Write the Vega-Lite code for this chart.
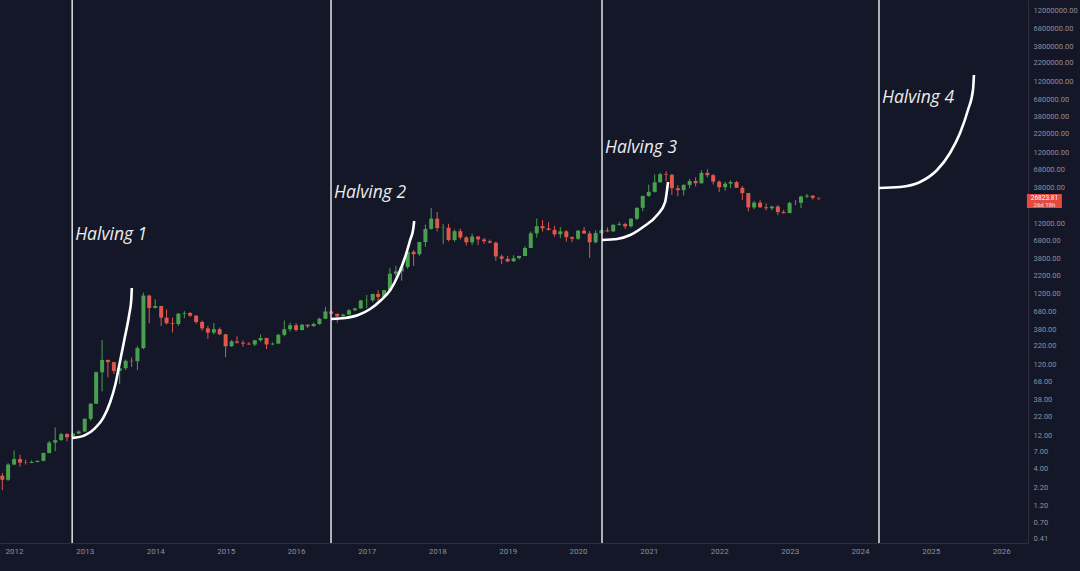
{
  "$schema": "https://vega.github.io/schema/vega-lite/v6.json",
  "width": 1028,
  "height": 543,
  "autosize": {"type": "none"},
  "padding": {"left": 0, "top": 0, "right": 52, "bottom": 28},
  "background": "#141727",
  "config": {"view": {"stroke": null}, "font": "Roboto"},
  "datasets": {
    "candles": [
      {"d":"2011-11-01","o":3.2,"h":3.5,"l":2.0,"c":2.8},
      {"d":"2011-12-01","o":2.8,"h":4.8,"l":2.7,"c":4.6},
      {"d":"2012-01-01","o":4.6,"h":7.3,"l":4.5,"c":5.5},
      {"d":"2012-02-01","o":5.5,"h":6.3,"l":4.3,"c":4.9},
      {"d":"2012-03-01","o":4.9,"h":5.4,"l":4.6,"c":4.85},
      {"d":"2012-04-01","o":4.85,"h":5.3,"l":4.8,"c":5.0},
      {"d":"2012-05-01","o":5.0,"h":5.2,"l":4.9,"c":5.2},
      {"d":"2012-06-01","o":5.2,"h":6.8,"l":5.1,"c":6.7},
      {"d":"2012-07-01","o":6.7,"h":9.9,"l":6.6,"c":9.4},
      {"d":"2012-08-01","o":9.4,"h":15.4,"l":7.1,"c":10.2},
      {"d":"2012-09-01","o":10.2,"h":12.9,"l":10.0,"c":12.4},
      {"d":"2012-10-01","o":12.4,"h":12.8,"l":9.8,"c":11.2},
      {"d":"2012-11-01","o":11.2,"h":12.9,"l":10.4,"c":12.6},
      {"d":"2012-12-01","o":12.6,"h":14.0,"l":12.5,"c":13.5},
      {"d":"2013-01-01","o":13.5,"h":20.7,"l":13.2,"c":20.4},
      {"d":"2013-02-01","o":20.4,"h":33.4,"l":19.1,"c":33.4},
      {"d":"2013-03-01","o":33.4,"h":95,"l":33,"c":93},
      {"d":"2013-04-01","o":93,"h":266,"l":50,"c":139},
      {"d":"2013-05-01","o":139,"h":140,"l":79,"c":129},
      {"d":"2013-06-01","o":129,"h":130,"l":88,"c":97},
      {"d":"2013-07-01","o":97,"h":111,"l":63,"c":106},
      {"d":"2013-08-01","o":106,"h":140,"l":100,"c":135},
      {"d":"2013-09-01","o":135,"h":150,"l":110,"c":133},
      {"d":"2013-10-01","o":133,"h":217,"l":100,"c":204},
      {"d":"2013-11-01","o":204,"h":1240,"l":197,"c":1130},
      {"d":"2013-12-01","o":1130,"h":1160,"l":456,"c":755},
      {"d":"2014-01-01","o":755,"h":1000,"l":740,"c":803},
      {"d":"2014-02-01","o":803,"h":810,"l":420,"c":550},
      {"d":"2014-03-01","o":550,"h":720,"l":440,"c":458},
      {"d":"2014-04-01","o":458,"h":550,"l":340,"c":447},
      {"d":"2014-05-01","o":447,"h":640,"l":420,"c":627},
      {"d":"2014-06-01","o":627,"h":680,"l":540,"c":640},
      {"d":"2014-07-01","o":640,"h":660,"l":565,"c":586},
      {"d":"2014-08-01","o":586,"h":600,"l":450,"c":478},
      {"d":"2014-09-01","o":478,"h":500,"l":360,"c":388},
      {"d":"2014-10-01","o":388,"h":420,"l":275,"c":338},
      {"d":"2014-11-01","o":338,"h":460,"l":318,"c":378},
      {"d":"2014-12-01","o":378,"h":400,"l":310,"c":320},
      {"d":"2015-01-01","o":320,"h":322,"l":152,"c":217},
      {"d":"2015-02-01","o":217,"h":265,"l":212,"c":254},
      {"d":"2015-03-01","o":254,"h":300,"l":236,"c":244},
      {"d":"2015-04-01","o":244,"h":262,"l":214,"c":236},
      {"d":"2015-05-01","o":236,"h":247,"l":227,"c":230},
      {"d":"2015-06-01","o":230,"h":267,"l":218,"c":263},
      {"d":"2015-07-01","o":263,"h":318,"l":252,"c":284},
      {"d":"2015-08-01","o":284,"h":285,"l":198,"c":230},
      {"d":"2015-09-01","o":230,"h":245,"l":225,"c":236},
      {"d":"2015-10-01","o":236,"h":326,"l":235,"c":314},
      {"d":"2015-11-01","o":314,"h":502,"l":300,"c":377},
      {"d":"2015-12-01","o":377,"h":468,"l":350,"c":430},
      {"d":"2016-01-01","o":430,"h":460,"l":350,"c":368},
      {"d":"2016-02-01","o":368,"h":448,"l":363,"c":437},
      {"d":"2016-03-01","o":437,"h":440,"l":393,"c":416},
      {"d":"2016-04-01","o":416,"h":468,"l":412,"c":448},
      {"d":"2016-05-01","o":448,"h":550,"l":436,"c":531},
      {"d":"2016-06-01","o":531,"h":780,"l":525,"c":673},
      {"d":"2016-07-01","o":673,"h":705,"l":605,"c":624},
      {"d":"2016-08-01","o":624,"h":626,"l":470,"c":574},
      {"d":"2016-09-01","o":574,"h":625,"l":570,"c":608},
      {"d":"2016-10-01","o":608,"h":725,"l":603,"c":700},
      {"d":"2016-11-01","o":700,"h":755,"l":680,"c":742},
      {"d":"2016-12-01","o":742,"h":980,"l":740,"c":963},
      {"d":"2017-01-01","o":963,"h":1150,"l":750,"c":970},
      {"d":"2017-02-01","o":970,"h":1200,"l":915,"c":1190},
      {"d":"2017-03-01","o":1190,"h":1350,"l":890,"c":1080},
      {"d":"2017-04-01","o":1080,"h":1350,"l":1080,"c":1350},
      {"d":"2017-05-01","o":1350,"h":2790,"l":1350,"c":2300},
      {"d":"2017-06-01","o":2300,"h":2980,"l":2100,"c":2480},
      {"d":"2017-07-01","o":2480,"h":2950,"l":1830,"c":2870},
      {"d":"2017-08-01","o":2870,"h":4740,"l":2700,"c":4700},
      {"d":"2017-09-01","o":4700,"h":4970,"l":2980,"c":4340},
      {"d":"2017-10-01","o":4340,"h":6470,"l":4110,"c":6450},
      {"d":"2017-11-01","o":6450,"h":11400,"l":5500,"c":9900},
      {"d":"2017-12-01","o":9900,"h":19660,"l":9700,"c":13850},
      {"d":"2018-01-01","o":13850,"h":17200,"l":9100,"c":10200},
      {"d":"2018-02-01","o":10200,"h":11700,"l":6000,"c":10300},
      {"d":"2018-03-01","o":10300,"h":11700,"l":6600,"c":6900},
      {"d":"2018-04-01","o":6900,"h":9750,"l":6500,"c":9200},
      {"d":"2018-05-01","o":9200,"h":10000,"l":7000,"c":7500},
      {"d":"2018-06-01","o":7500,"h":7780,"l":5750,"c":6400},
      {"d":"2018-07-01","o":6400,"h":8500,"l":5860,"c":7730},
      {"d":"2018-08-01","o":7730,"h":7800,"l":5880,"c":7020},
      {"d":"2018-09-01","o":7020,"h":7400,"l":6100,"c":6630},
      {"d":"2018-10-01","o":6630,"h":7000,"l":6200,"c":6330},
      {"d":"2018-11-01","o":6330,"h":6570,"l":3500,"c":4040},
      {"d":"2018-12-01","o":4040,"h":4300,"l":3150,"c":3740},
      {"d":"2019-01-01","o":3740,"h":4100,"l":3350,"c":3440},
      {"d":"2019-02-01","o":3440,"h":4200,"l":3390,"c":3820},
      {"d":"2019-03-01","o":3820,"h":4130,"l":3680,"c":4100},
      {"d":"2019-04-01","o":4100,"h":5650,"l":4080,"c":5320},
      {"d":"2019-05-01","o":5320,"h":9100,"l":5320,"c":8570},
      {"d":"2019-06-01","o":8570,"h":13880,"l":7450,"c":10820},
      {"d":"2019-07-01","o":10820,"h":13200,"l":9070,"c":10080},
      {"d":"2019-08-01","o":10080,"h":12330,"l":9370,"c":9600},
      {"d":"2019-09-01","o":9600,"h":10950,"l":7700,"c":8300},
      {"d":"2019-10-01","o":8300,"h":10540,"l":7300,"c":9150},
      {"d":"2019-11-01","o":9150,"h":9500,"l":6530,"c":7570},
      {"d":"2019-12-01","o":7570,"h":7750,"l":6430,"c":7190},
      {"d":"2020-01-01","o":7190,"h":9580,"l":6850,"c":9350},
      {"d":"2020-02-01","o":9350,"h":10500,"l":8400,"c":8540},
      {"d":"2020-03-01","o":8540,"h":9200,"l":3850,"c":6410},
      {"d":"2020-04-01","o":6410,"h":9470,"l":6150,"c":8630},
      {"d":"2020-05-01","o":8630,"h":10070,"l":8100,"c":9450},
      {"d":"2020-06-01","o":9450,"h":10380,"l":8900,"c":9140},
      {"d":"2020-07-01","o":9140,"h":11440,"l":8980,"c":11340},
      {"d":"2020-08-01","o":11340,"h":12470,"l":10980,"c":11650},
      {"d":"2020-09-01","o":11650,"h":12090,"l":9880,"c":10780},
      {"d":"2020-10-01","o":10780,"h":14100,"l":10380,"c":13790},
      {"d":"2020-11-01","o":13790,"h":19900,"l":13200,"c":19700},
      {"d":"2020-12-01","o":19700,"h":29300,"l":17600,"c":28950},
      {"d":"2021-01-01","o":28950,"h":41950,"l":28100,"c":33100},
      {"d":"2021-02-01","o":33100,"h":58350,"l":32300,"c":45100},
      {"d":"2021-03-01","o":45100,"h":61800,"l":45000,"c":58800},
      {"d":"2021-04-01","o":58800,"h":64900,"l":47000,"c":57700},
      {"d":"2021-05-01","o":57700,"h":59500,"l":30000,"c":37300},
      {"d":"2021-06-01","o":37300,"h":41300,"l":28800,"c":35000},
      {"d":"2021-07-01","o":35000,"h":42400,"l":29300,"c":41500},
      {"d":"2021-08-01","o":41500,"h":50500,"l":37300,"c":47100},
      {"d":"2021-09-01","o":47100,"h":52900,"l":39600,"c":43800},
      {"d":"2021-10-01","o":43800,"h":67000,"l":43300,"c":61300},
      {"d":"2021-11-01","o":61300,"h":69000,"l":53300,"c":57000},
      {"d":"2021-12-01","o":57000,"h":59100,"l":42000,"c":46200},
      {"d":"2022-01-01","o":46200,"h":47900,"l":33000,"c":38500},
      {"d":"2022-02-01","o":38500,"h":45800,"l":34300,"c":43200},
      {"d":"2022-03-01","o":43200,"h":48200,"l":37200,"c":45500},
      {"d":"2022-04-01","o":45500,"h":47400,"l":37600,"c":37700},
      {"d":"2022-05-01","o":37700,"h":40000,"l":25400,"c":31800},
      {"d":"2022-06-01","o":31800,"h":31900,"l":17600,"c":19950},
      {"d":"2022-07-01","o":19950,"h":24700,"l":18800,"c":23300},
      {"d":"2022-08-01","o":23300,"h":25200,"l":19600,"c":20000},
      {"d":"2022-09-01","o":20000,"h":22800,"l":18150,"c":19400},
      {"d":"2022-10-01","o":19400,"h":21000,"l":18200,"c":20500},
      {"d":"2022-11-01","o":20500,"h":21450,"l":15500,"c":17150},
      {"d":"2022-12-01","o":17150,"h":18400,"l":16300,"c":16550},
      {"d":"2023-01-01","o":16550,"h":23950,"l":16500,"c":23100},
      {"d":"2023-02-01","o":23100,"h":25250,"l":21400,"c":23150},
      {"d":"2023-03-01","o":23150,"h":29200,"l":19550,"c":28450},
      {"d":"2023-04-01","o":28450,"h":31000,"l":26950,"c":29250},
      {"d":"2023-05-01","o":29250,"h":29800,"l":25800,"c":27200},
      {"d":"2023-06-01","o":27200,"h":27500,"l":25300,"c":26823.81}
    ],
    "halvings": [
      {"d":"2012-10-28","name":"Halving 1","v":8120},
      {"d":"2016-06-30","name":"Halving 2","v":31880},
      {"d":"2020-05-04","name":"Halving 3","v":138000},
      {"d":"2024-04-08","name":"Halving 4","v":703600}
    ],
    "curves": [
      {"k":1,"d":"2012-10-28","v":10.9},
      {"k":1,"d":"2013-01-03","v":12.0},
      {"k":1,"d":"2013-02-24","v":15.1},
      {"k":1,"d":"2013-04-07","v":21.0},
      {"k":1,"d":"2013-05-13","v":35.3},
      {"k":1,"d":"2013-06-08","v":61.4},
      {"k":1,"d":"2013-06-29","v":117.7},
      {"k":1,"d":"2013-07-25","v":265.7},
      {"k":1,"d":"2013-08-19","v":600},
      {"k":1,"d":"2013-08-30","v":977},
      {"k":1,"d":"2013-09-02","v":1444},
      {"k":2,"d":"2016-06-30","v":526},
      {"k":2,"d":"2016-09-11","v":544},
      {"k":2,"d":"2016-11-18","v":600},
      {"k":2,"d":"2017-01-19","v":729},
      {"k":2,"d":"2017-03-17","v":977},
      {"k":2,"d":"2017-05-03","v":1353},
      {"k":2,"d":"2017-06-13","v":2206},
      {"k":2,"d":"2017-07-19","v":3966},
      {"k":2,"d":"2017-08-14","v":6898},
      {"k":2,"d":"2017-08-30","v":9870},
      {"k":2,"d":"2017-09-04","v":12810},
      {"k":3,"d":"2020-05-04","v":6898},
      {"k":3,"d":"2020-07-21","v":7126},
      {"k":3,"d":"2020-09-27","v":8120},
      {"k":3,"d":"2020-12-03","v":10535},
      {"k":3,"d":"2021-02-14","v":15575},
      {"k":3,"d":"2021-03-27","v":23780},
      {"k":3,"d":"2021-04-06","v":35160},
      {"k":3,"d":"2021-04-11","v":45620},
      {"k":4,"d":"2024-04-08","v":37520},
      {"k":4,"d":"2024-07-26","v":38770},
      {"k":4,"d":"2024-11-07","v":45620},
      {"k":4,"d":"2025-02-03","v":67430},
      {"k":4,"d":"2025-04-11","v":117300},
      {"k":4,"d":"2025-06-02","v":225000},
      {"k":4,"d":"2025-07-13","v":476000},
      {"k":4,"d":"2025-08-08","v":912800},
      {"k":4,"d":"2025-08-13","v":1488000}
    ],
    "last": [
      {"d":"2026-08-13","c":26823.81,"price":"26823.81","timer":"26d 18h"}
    ]
  },
  "encoding": {
    "x": {
      "field": "d", "type": "temporal",
      "scale": {"type": "utc", "domain": [{"year":2011,"month":10,"date":20,"utc":true},{"year":2026,"month":5,"date":20,"utc":true}], "nice": false, "padding": 0},
      "axis": {
        "title": null, "orient": "bottom", "format": "%Y", "formatType": "utc",
        "tickCount": {"interval": "year", "step": 1},
        "labelOverlap": false, "labelFontSize": 8, "labelColor": "#8d909a",
        "labelPadding": 4, "ticks": false, "grid": false,
        "domainColor": "#2a2e3f", "labelFlush": false
      }
    }
  },
  "layer": [
    {
      "data": {"name": "candles"},
      "mark": {"type": "rule", "strokeWidth": 1},
      "encoding": {
        "y": {"field": "l", "type": "quantitative",
          "scale": {"type": "log", "domain": [0.3573, 17120000], "nice": false, "zero": false},
          "axis": {
            "title": null, "orient": "right", "format": ".2f",
            "values": [0.41,0.7,1.2,2.2,4,7,12,22,38,68,120,220,380,680,1200,2200,3800,6800,12000,38000,68000,120000,220000,380000,680000,1200000,2200000,3800000,6800000,12000000],
            "labelFontSize": 7.5, "labelColor": "#8d909a", "labelPadding": 5,
            "ticks": false, "grid": false, "domainColor": "#2a2e3f", "labelOverlap": false
          }
        },
        "y2": {"field": "h"},
        "color": {"condition": {"test": "datum.c >= datum.o", "value": "#47a04d"}, "value": "#e0574b"}
      }
    },
    {
      "data": {"name": "candles"},
      "mark": {"type": "bar", "size": 4},
      "encoding": {
        "y": {"field": "o", "type": "quantitative"},
        "y2": {"field": "c"},
        "color": {"condition": {"test": "datum.c >= datum.o", "value": "#47a04d"}, "value": "#e0574b"}
      }
    },
    {
      "data": {"name": "halvings"},
      "mark": {"type": "rule", "color": "#d6d7db", "strokeWidth": 1.6},
      "encoding": {}
    },
    {
      "data": {"name": "curves"},
      "mark": {"type": "line", "color": "#ffffff", "strokeWidth": 2.6, "interpolate": "monotone"},
      "encoding": {
        "y": {"field": "v", "type": "quantitative"},
        "detail": {"field": "k"}
      }
    },
    {
      "data": {"name": "halvings"},
      "mark": {"type": "text", "align": "left", "baseline": "middle", "dx": 3, "font": "Open Sans", "fontStyle": "italic", "fontSize": 17.5, "color": "#ececec"},
      "encoding": {
        "y": {"field": "v", "type": "quantitative"},
        "text": {"field": "name"}
      }
    },
    {
      "data": {"name": "last"},
      "mark": {"type": "point", "shape": "M-1,-0.25H1V0.55H-1Z", "size": 1225, "filled": true, "color": "#e5493f", "opacity": 1},
      "encoding": {
        "y": {"field": "c", "type": "quantitative"}
      }
    },
    {
      "data": {"name": "last"},
      "mark": {"type": "text", "align": "center", "baseline": "middle", "fontSize": 6.5, "color": "#ffffff", "dy": 0},
      "encoding": {
        "y": {"field": "c", "type": "quantitative"},
        "text": {"field": "price"}
      }
    },
    {
      "data": {"name": "last"},
      "mark": {"type": "text", "align": "center", "baseline": "middle", "fontSize": 6, "color": "#ffe0dc", "dy": 7},
      "encoding": {
        "y": {"field": "c", "type": "quantitative"},
        "text": {"field": "timer"}
      }
    }
  ]
}
